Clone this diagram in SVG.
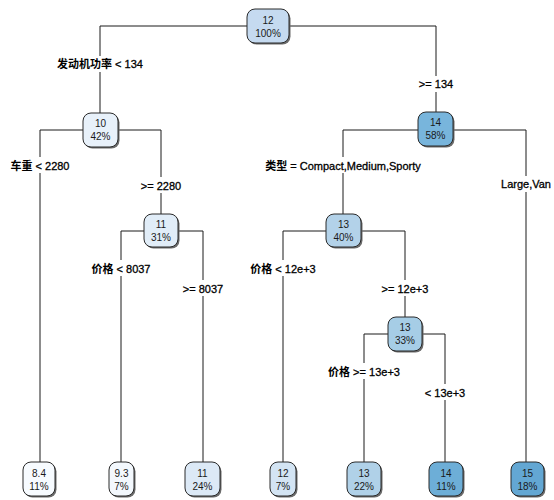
<svg xmlns="http://www.w3.org/2000/svg" width="554" height="500" viewBox="0 0 554 500">
<style>
.bg{fill:#ffffff}
.ln{stroke:#1a1a1a;stroke-width:1;fill:none}
.sh{fill:#6b6b6b}
.bx{stroke:#2a2a2a;stroke-width:1}
.nt{font-family:"Liberation Sans","Noto Sans CJK SC",sans-serif;font-size:10px;fill:#1a1a1a;text-anchor:middle}
.lb{font-family:"Liberation Sans","Noto Sans CJK SC",sans-serif;font-size:11px;fill:#000;stroke:#000;stroke-width:0.3;text-anchor:middle}
.cj{font-family:"Noto Sans CJK SC",sans-serif;font-weight:bold;stroke-width:0}
</style>
<rect class="bg" x="0" y="0" width="554" height="500"/>
<g id="connectors">
<path class="ln" d="M100,26H247M289,26H436"/>
<path class="ln" d="M100,26V56M100,72V113"/>
<path class="ln" d="M436,26V76M436,92V112"/>
<path class="ln" d="M40,130H83M118,130H161"/>
<path class="ln" d="M40,130V157M40,173V462"/>
<path class="ln" d="M161,130V177M161,193V214"/>
<path class="ln" d="M343,130H418M453,130H526"/>
<path class="ln" d="M343,130V157M343,173V214"/>
<path class="ln" d="M526,130V176M526,192V462"/>
<path class="ln" d="M121,231H144M178,231H203"/>
<path class="ln" d="M121,231V260M121,276V462"/>
<path class="ln" d="M203,231V280M203,296V462"/>
<path class="ln" d="M283,231H326M361,231H405"/>
<path class="ln" d="M283,231V260M283,276V462"/>
<path class="ln" d="M405,231V280M405,296V317"/>
<path class="ln" d="M364,334H388M422,334H445"/>
<path class="ln" d="M364,334V363M364,379V462"/>
<path class="ln" d="M445,334V384M445,400V462"/>
</g>
<g id="labels">
<text class="lb" x="100" y="68"><tspan class="cj">发动机功率</tspan> &lt; 134</text>
<text class="lb" x="436" y="88">&gt;= 134</text>
<text class="lb" x="40" y="170"><tspan class="cj">车重</tspan> &lt; 2280</text>
<text class="lb" x="161" y="190">&gt;= 2280</text>
<text class="lb" x="343" y="170"><tspan class="cj">类型</tspan> = Compact,Medium,Sporty</text>
<text class="lb" x="526" y="188">Large,Van</text>
<text class="lb" x="121" y="273"><tspan class="cj">价格</tspan> &lt; 8037</text>
<text class="lb" x="203" y="293">&gt;= 8037</text>
<text class="lb" x="283" y="273"><tspan class="cj">价格</tspan> &lt; 12e+3</text>
<text class="lb" x="405" y="293">&gt;= 12e+3</text>
<text class="lb" x="364" y="376"><tspan class="cj">价格</tspan> &gt;= 13e+3</text>
<text class="lb" x="445" y="397">&lt; 13e+3</text>
</g>
<g id="n1"><rect class="sh" x="248.5" y="10.5" width="42" height="34" rx="8"/><rect class="bx" x="247" y="9" width="42" height="34" rx="8" fill="#c5daf0"/><text class="nt" x="268" y="24">12</text><text class="nt" x="268" y="37">100%</text></g>
<g id="n2"><rect class="sh" x="84.5" y="114.5" width="35" height="34" rx="8"/><rect class="bx" x="83" y="113" width="35" height="34" rx="8" fill="#e8f1fa"/><text class="nt" x="100.5" y="127">10</text><text class="nt" x="100.5" y="140">42%</text></g>
<g id="n3"><rect class="sh" x="419.5" y="113.5" width="35" height="34" rx="8"/><rect class="bx" x="418" y="112" width="35" height="34" rx="8" fill="#78b5dc"/><text class="nt" x="435.5" y="126">14</text><text class="nt" x="435.5" y="139">58%</text></g>
<g id="n4"><rect class="sh" x="145.5" y="215.5" width="34" height="33" rx="8"/><rect class="bx" x="144" y="214" width="34" height="33" rx="8" fill="#e1edf8"/><text class="nt" x="161" y="228">11</text><text class="nt" x="161" y="241">31%</text></g>
<g id="n5"><rect class="sh" x="327.5" y="215.5" width="35" height="33" rx="8"/><rect class="bx" x="326" y="214" width="35" height="33" rx="8" fill="#b3d2e9"/><text class="nt" x="343.5" y="228">13</text><text class="nt" x="343.5" y="241">40%</text></g>
<g id="n6"><rect class="sh" x="389.5" y="318.5" width="34" height="34" rx="8"/><rect class="bx" x="388" y="317" width="34" height="34" rx="8" fill="#a6cde6"/><text class="nt" x="405" y="331">13</text><text class="nt" x="405" y="344">33%</text></g>
<g id="l1"><rect class="sh" x="24.5" y="463.5" width="32" height="34" rx="8"/><rect class="bx" x="23" y="462" width="32" height="34" rx="8" fill="#f7fbff"/><text class="nt" x="39" y="477">8.4</text><text class="nt" x="39" y="490">11%</text></g>
<g id="l2"><rect class="sh" x="110.5" y="463.5" width="25" height="34" rx="8"/><rect class="bx" x="109" y="462" width="25" height="34" rx="8" fill="#f3f8fd"/><text class="nt" x="121.5" y="477">9.3</text><text class="nt" x="121.5" y="490">7%</text></g>
<g id="l3"><rect class="sh" x="186.5" y="463.5" width="35" height="34" rx="8"/><rect class="bx" x="185" y="462" width="35" height="34" rx="8" fill="#dce9f6"/><text class="nt" x="202.5" y="477">11</text><text class="nt" x="202.5" y="490">24%</text></g>
<g id="l4"><rect class="sh" x="271.5" y="463.5" width="26" height="34" rx="8"/><rect class="bx" x="270" y="462" width="26" height="34" rx="8" fill="#d3e4f3"/><text class="nt" x="283" y="477">12</text><text class="nt" x="283" y="490">7%</text></g>
<g id="l5"><rect class="sh" x="348.5" y="463.5" width="34" height="34" rx="8"/><rect class="bx" x="347" y="462" width="34" height="34" rx="8" fill="#b0d1e8"/><text class="nt" x="364" y="477">13</text><text class="nt" x="364" y="490">22%</text></g>
<g id="l6"><rect class="sh" x="430.5" y="463.5" width="34" height="34" rx="8"/><rect class="bx" x="429" y="462" width="34" height="34" rx="8" fill="#6daed7"/><text class="nt" x="446" y="477">14</text><text class="nt" x="446" y="490">11%</text></g>
<g id="l7"><rect class="sh" x="512.5" y="463.5" width="33" height="34" rx="8"/><rect class="bx" x="511" y="462" width="33" height="34" rx="8" fill="#63a7d3"/><text class="nt" x="527.5" y="477">15</text><text class="nt" x="527.5" y="490">18%</text></g>
</svg>
